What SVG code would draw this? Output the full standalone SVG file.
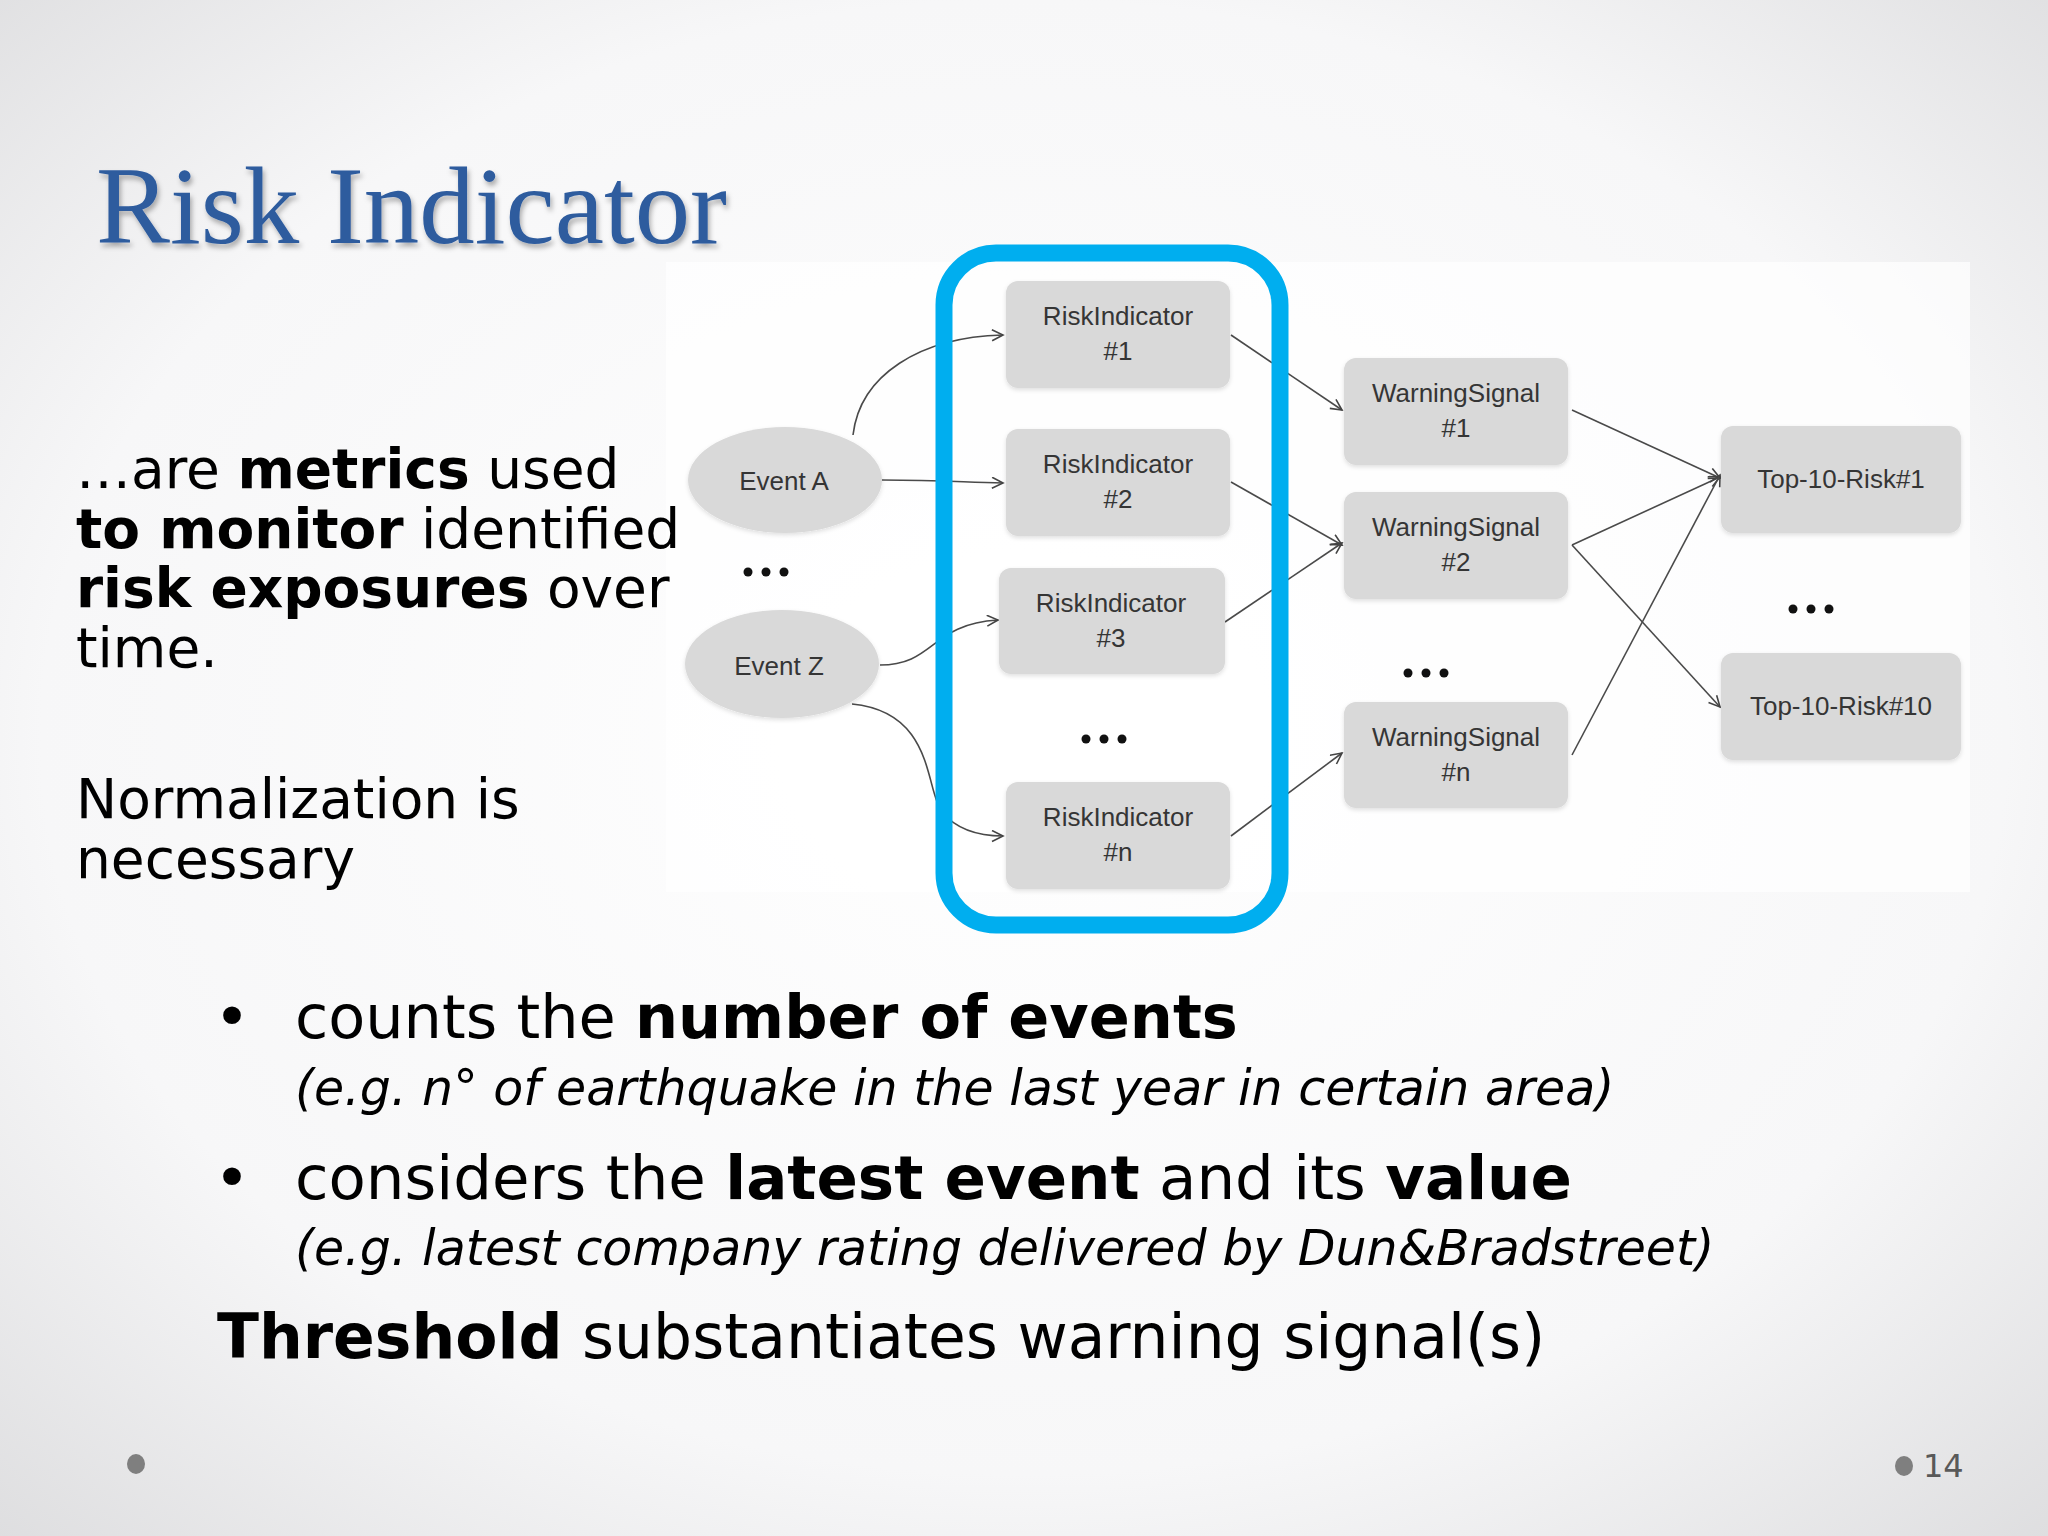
<svg xmlns="http://www.w3.org/2000/svg" width="2048" height="1536" viewBox="0 0 2048 1536">
  <defs>
    <radialGradient id="bg" cx="50%" cy="48%" r="80%">
      <stop offset="0" stop-color="#ffffff"/>
      <stop offset="0.6" stop-color="#f7f7f8"/>
      <stop offset="1" stop-color="#d6d6d8"/>
    </radialGradient>
    <filter id="titleShadow" x="-5%" y="-20%" width="110%" height="150%">
      <feDropShadow dx="2" dy="4" stdDeviation="2.5" flood-color="#000" flood-opacity="0.3"/>
    </filter>
    <filter id="boxShadow" x="-10%" y="-10%" width="120%" height="130%">
      <feDropShadow dx="0" dy="2" stdDeviation="2" flood-color="#000" flood-opacity="0.12"/>
    </filter>
    <marker id="arrow" markerUnits="userSpaceOnUse" markerWidth="16" markerHeight="16" refX="12" refY="6" orient="auto">
      <path d="M1,0.5 L12,6 L1,11.5" fill="none" stroke="#444" stroke-width="1.6"/>
    </marker>
    <style>
      .body { font-family: "DejaVu Sans", "Liberation Sans", sans-serif; fill: #000; }
      .b { font-weight: bold; }
      .node { fill: #d9d9d9; filter: url(#boxShadow); }
      .lbl { font-family: "Liberation Sans", Arial, sans-serif; font-size: 26px; fill: #353535; text-anchor: middle; }
      .conn { fill: none; stroke: #4a4a4a; stroke-width: 1.6; marker-end: url(#arrow); }
      .dot { fill: #111; }
    </style>
  </defs>

  <rect x="0" y="0" width="2048" height="1536" fill="url(#bg)"/>
  <rect x="666" y="262" width="1304" height="630" fill="#ffffff" opacity="0.7"/>

  <text x="96" y="243" font-family="'Liberation Serif', 'DejaVu Serif', serif" font-size="110" fill="#2d5b9e" textLength="631" lengthAdjust="spacingAndGlyphs" filter="url(#titleShadow)">Risk Indicator</text>

  <g id="connectors">
    <path class="conn" d="M853,435 C860,375 920,337 1003,335"/>
    <path class="conn" d="M882,480 C940,480 960,482 1003,483"/>
    <path class="conn" d="M880,665 C935,665 930,624 998,620"/>
    <path class="conn" d="M852,704 C935,712 925,790 942,812 C957,830 980,836 1003,836"/>
    <path class="conn" d="M1231,335 L1342,410"/>
    <path class="conn" d="M1231,482 L1342,545"/>
    <path class="conn" d="M1225,622 L1342,543"/>
    <path class="conn" d="M1231,836 L1342,753"/>
    <path class="conn" d="M1572,410 L1720,478"/>
    <path class="conn" d="M1572,545 L1720,477"/>
    <path class="conn" d="M1572,545 L1720,707"/>
    <path class="conn" d="M1572,755 L1720,475"/>
  </g>

  <g id="event-a">
    <ellipse class="node" cx="785" cy="480" rx="97" ry="53"/>
    <text class="lbl" x="784" y="490" font-size="27">Event A</text>
  </g>
  <g id="event-z">
    <ellipse class="node" cx="782" cy="664" rx="97" ry="54"/>
    <text class="lbl" x="779" y="675" font-size="27">Event Z</text>
  </g>
  <g id="event-dots">
    <circle class="dot" cx="748" cy="572" r="4.5"/>
    <circle class="dot" cx="766" cy="572" r="4.5"/>
    <circle class="dot" cx="784" cy="572" r="4.5"/>
  </g>

  <g id="ri-1">
    <rect class="node" x="1006" y="281" width="224" height="107" rx="12"/>
    <text class="lbl" x="1118" y="325">RiskIndicator</text>
    <text class="lbl" x="1118" y="360">#1</text>
  </g>
  <g id="ri-2">
    <rect class="node" x="1006" y="429" width="224" height="107" rx="12"/>
    <text class="lbl" x="1118" y="473">RiskIndicator</text>
    <text class="lbl" x="1118" y="508">#2</text>
  </g>
  <g id="ri-3">
    <rect class="node" x="999" y="568" width="226" height="106" rx="12"/>
    <text class="lbl" x="1111" y="612">RiskIndicator</text>
    <text class="lbl" x="1111" y="647">#3</text>
  </g>
  <g id="ri-dots">
    <circle class="dot" cx="1086" cy="739" r="4.5"/>
    <circle class="dot" cx="1104" cy="739" r="4.5"/>
    <circle class="dot" cx="1122" cy="739" r="4.5"/>
  </g>
  <g id="ri-n">
    <rect class="node" x="1006" y="782" width="224" height="107" rx="12"/>
    <text class="lbl" x="1118" y="826">RiskIndicator</text>
    <text class="lbl" x="1118" y="861">#n</text>
  </g>

  <g id="ws-1">
    <rect class="node" x="1344" y="358" width="224" height="107" rx="12"/>
    <text class="lbl" x="1456" y="402">WarningSignal</text>
    <text class="lbl" x="1456" y="437">#1</text>
  </g>
  <g id="ws-2">
    <rect class="node" x="1344" y="492" width="224" height="107" rx="12"/>
    <text class="lbl" x="1456" y="536">WarningSignal</text>
    <text class="lbl" x="1456" y="571">#2</text>
  </g>
  <g id="ws-dots">
    <circle class="dot" cx="1408" cy="673" r="4.5"/>
    <circle class="dot" cx="1426" cy="673" r="4.5"/>
    <circle class="dot" cx="1444" cy="673" r="4.5"/>
  </g>
  <g id="ws-n">
    <rect class="node" x="1344" y="702" width="224" height="106" rx="12"/>
    <text class="lbl" x="1456" y="746">WarningSignal</text>
    <text class="lbl" x="1456" y="781">#n</text>
  </g>

  <g id="top-1">
    <rect class="node" x="1721" y="426" width="240" height="107" rx="12"/>
    <text class="lbl" x="1841" y="488">Top-10-Risk#1</text>
  </g>
  <g id="top-dots">
    <circle class="dot" cx="1793" cy="609" r="4.5"/>
    <circle class="dot" cx="1811" cy="609" r="4.5"/>
    <circle class="dot" cx="1829" cy="609" r="4.5"/>
  </g>
  <g id="top-10">
    <rect class="node" x="1721" y="653" width="240" height="107" rx="12"/>
    <text class="lbl" x="1841" y="715">Top-10-Risk#10</text>
  </g>

  <rect id="highlight" x="944" y="253" width="336" height="672" rx="52" fill="none" stroke="#00aeef" stroke-width="17"/>

  <g id="left-text" class="body" font-size="55">
    <text x="76" y="488">…are <tspan class="b">metrics</tspan> used</text>
    <text x="76" y="548"><tspan class="b">to monitor</tspan> identified</text>
    <text x="76" y="607"><tspan class="b">risk exposures</tspan> over</text>
    <text x="76" y="667">time.</text>
    <text x="76" y="818">Normalization is</text>
    <text x="76" y="878">necessary</text>
  </g>

  <g id="bottom-text" class="body">
    <text x="214" y="1038" font-size="61">•</text>
    <text x="295" y="1038" font-size="60.5">counts the <tspan class="b">number of events</tspan></text>
    <text x="295" y="1105" font-size="49" font-style="italic">(e.g. n° of earthquake in the last year in certain area)</text>
    <text x="214" y="1199" font-size="61">•</text>
    <text x="295" y="1199" font-size="61">considers the <tspan class="b">latest event</tspan> and its <tspan class="b">value</tspan></text>
    <text x="295" y="1265" font-size="49" font-style="italic">(e.g. latest company rating delivered by Dun&amp;Bradstreet)</text>
    <text x="217" y="1358" font-size="61.5"><tspan class="b">Threshold</tspan> substantiates warning signal(s)</text>
  </g>

  <g id="footer">
    <ellipse cx="136" cy="1464" rx="9" ry="10" fill="#7f7f7f"/>
    <ellipse cx="1904" cy="1466" rx="9" ry="10" fill="#7f7f7f"/>
    <text x="1923" y="1477" font-family="'DejaVu Sans', sans-serif" font-size="32" fill="#595959">14</text>
  </g>
</svg>
